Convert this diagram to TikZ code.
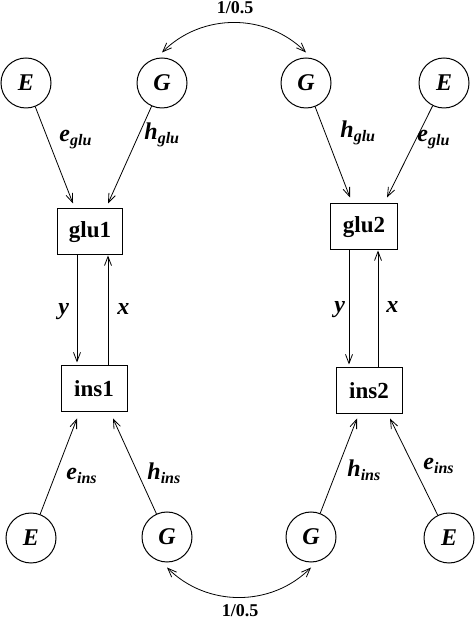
\documentclass[tikz,border=0pt]{standalone}
\usepackage{fontspec}
\setmainfont{Liberation Serif}
\usetikzlibrary{arrows.meta}
\newcommand\lbl[2]{{\fontsize{24}{24}\selectfont\bfseries\itshape #1\raisebox{-0.35ex}{\fontsize{16}{16}\selectfont #2}}}
\begin{document}
\begin{tikzpicture}[x=1pt,y=1pt, line width=0.8pt,
 circ/.style={circle,draw,line width=1pt,minimum size=50pt,inner sep=0pt,font=\fontsize{24}{24}\selectfont\bfseries\itshape},
 boxn/.style={rectangle,draw,line width=1pt,minimum width=65pt,minimum height=46pt,inner sep=0pt,font=\fontsize{23}{23}\selectfont\bfseries},
 arr/.style={-{Straight Barb[length=9pt,width=7pt]}},
 darr/.style={{Straight Barb[length=9pt,width=7pt]}-{Straight Barb[length=9pt,width=7pt]}},
 lab/.style={anchor=base west,inner sep=0pt},
 wt/.style={font=\fontsize{18}{18}\selectfont\bfseries,inner sep=0pt,anchor=base}]
\useasboundingbox (0,0) rectangle (474,620);
% circles
\node[circ] (E1) at (26,537) {E};
\node[circ] (G1) at (162,537) {G};
\node[circ] (G2) at (306,537) {G};
\node[circ] (E2) at (444,537) {E};
\node[circ] (E3) at (31,82) {E};
\node[circ] (G3) at (167,83) {G};
\node[circ] (G4) at (311,83) {G};
\node[circ] (E4) at (449,82) {E};
% boxes
\node[boxn] (glu1) at (90,388) {glu1};
\node[boxn,minimum width=67pt] (glu2) at (364,393) {glu2};
\node[boxn,minimum width=66pt] (ins1) at (94,231) {ins1};
\node[boxn,minimum width=66pt] (ins2) at (369,229) {ins2};
% helper coordinates for vertical arrows
\coordinate (cy1) at (77,0);
\coordinate (cx1) at (108,0);
\coordinate (cy2) at (349,0);
\coordinate (cx2) at (378,0);
% top arrows
\draw[arr] (E1) -- ([xshift=-17pt,yshift=5pt]glu1.north);
\draw[arr] (G1) -- ([xshift=18pt,yshift=5pt]glu1.north);
\draw[arr] (G2) -- ([xshift=-14pt,yshift=6pt]glu2.north);
\draw[arr] (E2) -- ([xshift=23pt,yshift=6pt]glu2.north);
% vertical arrows
\draw[arr] (glu1.south -| cy1) -- ([yshift=3pt]ins1.north -| cy1);
\draw[arr] (ins1.north -| cx1) -- (glu1.south -| cx1);
\draw[arr] (glu2.south -| cy2) -- ([yshift=3pt]ins2.north -| cy2);
\draw[arr] (ins2.north -| cx2) -- (glu2.south -| cx2);
% bottom arrows
\draw[arr] (E3) -- ([xshift=-17pt,yshift=-6pt]ins1.south);
\draw[arr] (G3) -- ([xshift=19pt,yshift=-6pt]ins1.south);
\draw[arr] (G4) -- ([xshift=-12pt,yshift=-4pt]ins2.south);
\draw[arr] (E4) -- ([xshift=21pt,yshift=-4pt]ins2.south);
% arcs
\draw[darr] ([yshift=5pt]G1.north) to[out=45,in=135] ([yshift=5pt]G2.north);
\draw[darr] ([yshift=-5pt]G3.south) to[out=-45,in=-135] ([yshift=-5pt]G4.south);
\node[wt] (w1) at (235,606) {1/0.5};
\node[wt] (w2) at (240,3) {1/0.5};
% labels
\node[lab] (l1) at (59,478) {\lbl{e}{glu}};
\node[lab] (l2) at (144,480) {\lbl{h}{glu}};
\node[lab] (l3) at (340,482) {\lbl{h}{glu}};
\node[lab] (l4) at (417,478) {\lbl{e}{glu}};
\node[lab] (l5) at (58,305) {\lbl{y}{}};
\node[lab] (l6) at (117,305) {\lbl{x}{}};
\node[lab] (l7) at (334,307) {\lbl{y}{}};
\node[lab] (l8) at (386,307) {\lbl{x}{}};
\node[lab] (l9) at (66,140) {\lbl{e}{ins}};
\node[lab] (l10) at (147,140) {\lbl{h}{ins}};
\node[lab] (l11) at (347,143) {\lbl{h}{ins}};
\node[lab] (l12) at (423,150) {\lbl{e}{ins}};
\end{tikzpicture}
\end{document}
